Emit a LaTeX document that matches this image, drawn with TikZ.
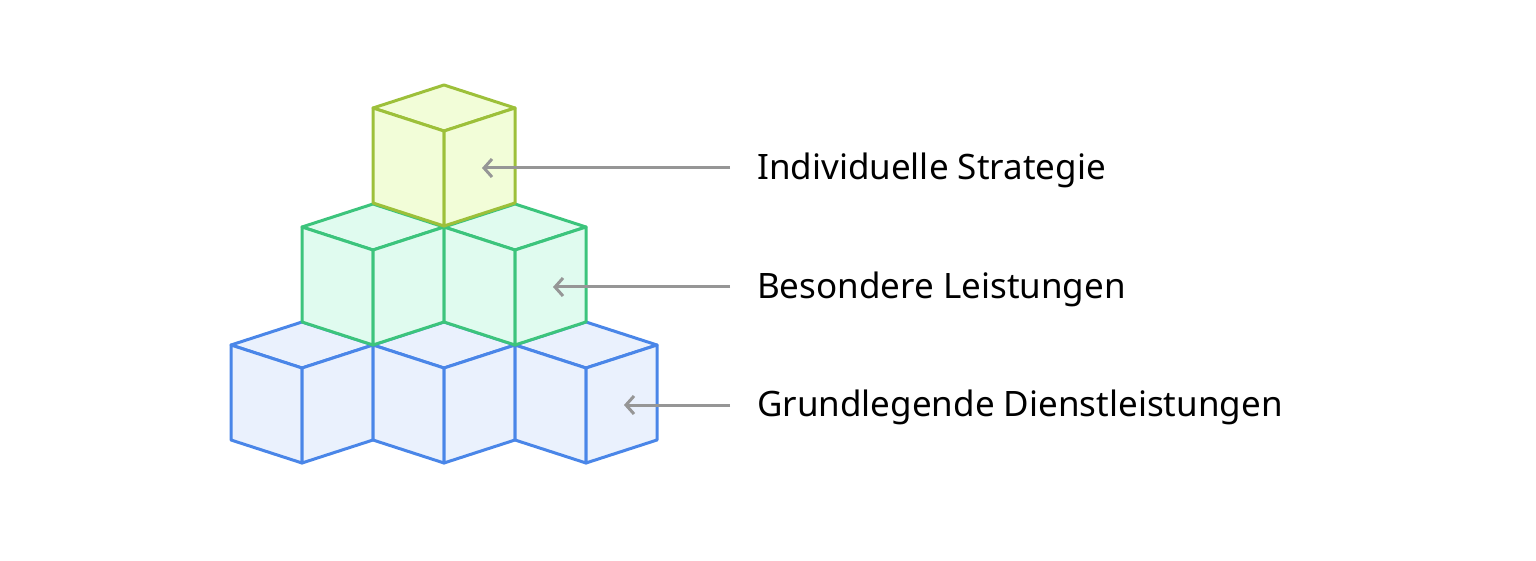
\documentclass[tikz,border=0pt]{standalone}
\usepackage{fontspec}
\setmainfont{Noto Sans}
\usetikzlibrary{arrows.meta}
\newcommand\mycube[3]{%
  \begin{scope}[shift={(#1,#2)}]
  \filldraw[#3] (0,0)--(71,-23)--(142,0)--(71,23)--cycle;
  \filldraw[#3] (0,0)--(71,23)--(71,118)--(0,95)--cycle;
  \filldraw[#3] (71,23)--(142,0)--(142,95)--(71,118)--cycle;
  \end{scope}}
\begin{document}
\begin{tikzpicture}[x=1pt,y=-1pt,
  blue/.style={draw={rgb,255:red,74;green,134;blue,232},fill={rgb,255:red,234;green,241;blue,253},line width=3,line join=round},
  green/.style={draw={rgb,255:red,60;green,196;blue,124},fill={rgb,255:red,224;green,251;blue,239},line width=3,line join=round},
  lime/.style={draw={rgb,255:red,157;green,192;blue,58},fill={rgb,255:red,242;green,253;blue,216},line width=3,line join=round},
  arr/.style={draw={rgb,255:red,150;green,150;blue,150},line width=3,-{Straight Barb[length=8pt,width=18pt]}},
  lbl/.style={anchor=west,font=\fontsize{35}{40}\selectfont,inner sep=0}]
\useasboundingbox (0,0) rectangle (1536,561);
\mycube{231}{345}{blue}
\mycube{373}{345}{blue}
\mycube{515}{345}{blue}
\mycube{302}{227}{green}
\mycube{444}{227}{green}
\mycube{373}{108}{lime}
\coordinate (t1) at (482,168);
\coordinate (t2) at (553,287);
\coordinate (t3) at (624,405);
\node[lbl] (l1) at (757,170) {Individuelle Strategie};
\node[lbl] (l2) at (757,289) {Besondere Leistungen};
\node[lbl] (l3) at (757,407) {Grundlegende Dienstleistungen};
\draw[arr] (730,168) -- (t1);
\draw[arr] (730,287) -- (t2);
\draw[arr] (730,405) -- (t3);
\end{tikzpicture}
\end{document}
